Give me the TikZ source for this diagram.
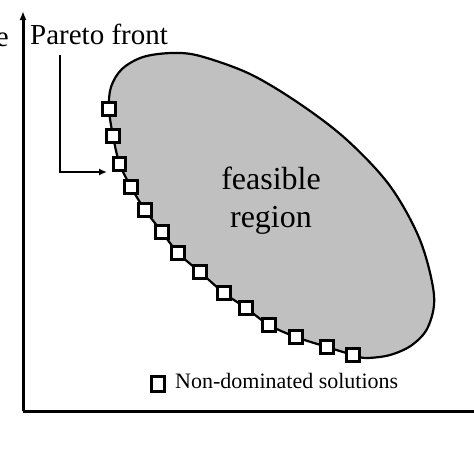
\documentclass[tikz,border=0pt]{standalone}
\usepackage{fontspec}
\setmainfont{Liberation Serif}
\usetikzlibrary{arrows.meta}
\definecolor{regiongray}{RGB}{192,192,192}
\tikzset{
  axisline/.style={line width=3pt, -{Latex[length=9pt,width=7pt]}},
  pointer/.style={line width=2pt, -{Latex[length=8pt,width=7pt]}},
  solbox/.style={draw, line width=3pt, fill=white, minimum width=12.5pt, minimum height=13pt, inner sep=0pt},
  boundary/.style={draw=black, line width=2.2pt, fill=regiongray},
  bigtext/.style={font=\fontsize{29}{34}\selectfont},
  regiontext/.style={font=\fontsize{32}{38}\selectfont, align=center},
  legendtext/.style={font=\fontsize{22}{26}\selectfont}
}
\begin{document}
\begin{tikzpicture}[x=1pt,y=-1pt]
\useasboundingbox (0,0) rectangle (474,474);
\clip (0,0) rectangle (474,474);
% feasible region
\path[boundary] plot[smooth cycle, tension=0.55] coordinates {
 (109,109) (111,87) (122,69) (143,57) (172,53) (200,56) (250,74) (300,104)
 (347,140) (390,186) (420,240) (434,295)
 (428,327) (412,345) (390,355) (366,358) (353,355) (327,347) (296,337)
 (269,325) (246,308) (224,293) (200,272) (178,253) (162,232) (145,210)
 (131,187) (119.5,163.5) (113,136)};
% axes
\coordinate (O) at (23,411);
\coordinate (ytip) at (23,11);
\coordinate (xend) at (480,411);
\draw[axisline] (O) -- (ytip);
\draw[line width=3pt] (O) -- (xend);
% cut-off axis label fragment
\node[bigtext, anchor=base east, inner sep=0pt] (ylab) at (9,46) {e};
% Pareto front label and pointer
\node[bigtext, anchor=base west, inner sep=0pt] (pareto) at (30,44) {Pareto front};
\coordinate (pstart) at (60,55);
\coordinate (pbend) at (60,172);
\coordinate (ptip) at (107,172);
\draw[pointer] (pstart) -- (pbend) -- (ptip);
% region label
\node[regiontext, inner sep=0pt] (feas) at (271,201) {feasible\\region};
% non-dominated solutions
\foreach \i/\x/\y in {1/109/109, 2/113/136, 3/119.5/163.5, 4/131/187, 5/145/210,
  6/162/232, 7/178/253, 8/200/272, 9/224/293, 10/246/308, 11/269/325,
  12/296/337, 13/327/347, 14/353/355}
  \node[solbox] (s\i) at (\x,\y) {};
% legend
\node[solbox, minimum width=13pt, minimum height=15pt] (legbox) at (158,384) {};
\node[legendtext, anchor=base west, inner sep=0pt] (legtext) at (175,388) {Non-dominated solutions};
\end{tikzpicture}
\end{document}
